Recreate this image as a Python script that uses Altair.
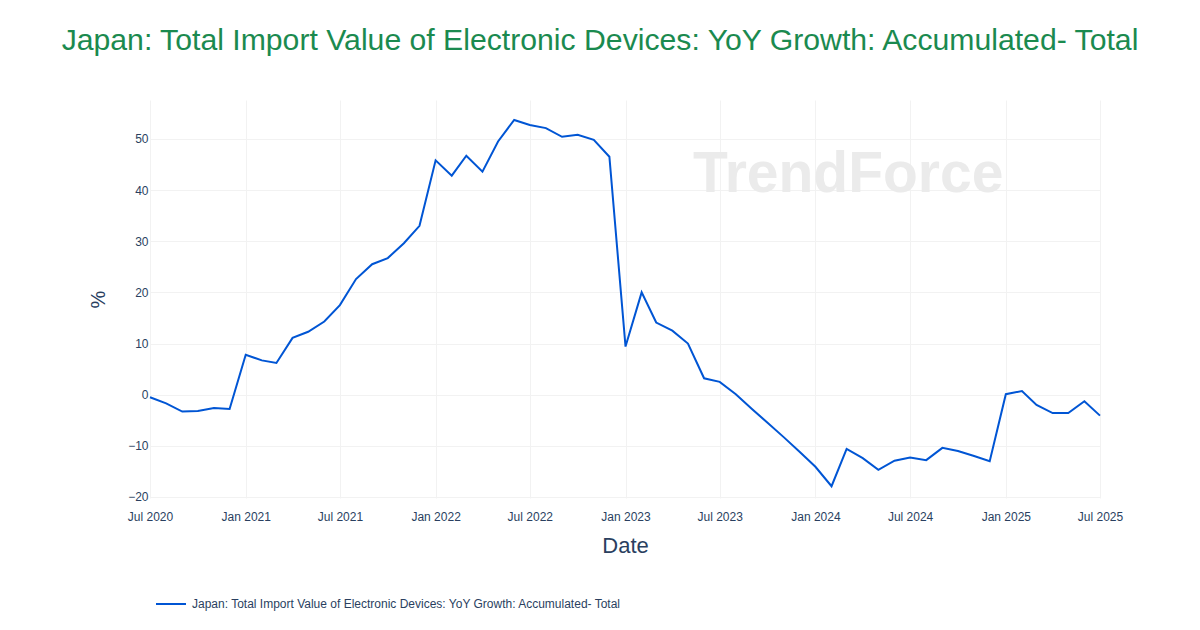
import altair as alt
import pandas as pd

title_text = "Japan: Total Import Value of Electronic Devices: YoY Growth: Accumulated- Total"
series_name = title_text

months = pd.date_range("2020-07-01", "2025-07-01", freq="MS").strftime("%Y-%m-%dT00:00:00").tolist()

values_2020 = [-0.5, -1.7, -3.3, -3.2, -2.6, -2.8]
values_2021 = [7.8, 6.7, 6.2, 11.1, 12.3, 14.3, 17.5, 22.6, 25.5, 26.7, 29.6, 33.0]
values_2022 = [45.8, 42.8, 46.7, 43.6, 49.5, 53.7, 52.7, 52.1, 50.4, 50.8, 49.8, 46.5]
values_2023 = [9.4, 20.0, 14.1, 12.5, 10.0, 3.2, 2.5, 0.1, -2.8, -5.5, -8.3, -11.1]
values_2024 = [-14.1, -17.9, -10.6, -12.4, -14.7, -12.9, -12.3, -12.8, -10.4, -11.0, -12.0, -13.0]
values_2025 = [0.1, 0.7, -2.0, -3.6, -3.6, -1.3, -4.1]

values = values_2020 + values_2021 + values_2022 + values_2023 + values_2024 + values_2025

tick_dates = [alt.DateTime(year=y, month=m, date=1)
              for y, m in [(2020, 7), (2021, 1), (2021, 7), (2022, 1), (2022, 7), (2023, 1),
                           (2023, 7), (2024, 1), (2024, 7), (2025, 1), (2025, 7)]]
y_ticks = [-20, -10, 0, 10, 20, 30, 40, 50]

df = pd.DataFrame({"Date": months, "value": values, "series": series_name})

FONT = "Liberation Sans"
TEXT = "#2a3f5f"
GRID = "#f2f2f2"

watermark = alt.Chart(pd.DataFrame({"t": ["TrendForce"]})).mark_text(
    font="Liberation Sans", fontWeight="bold", fontSize=57, color="#ebebeb",
    align="left", baseline="alphabetic"
).encode(text="t:N", x=alt.value(543), y=alt.value(92))

line = alt.Chart(df).mark_line(strokeWidth=2).encode(
    x=alt.X("Date:T",
            scale=alt.Scale(domain=[alt.DateTime(year=2020, month=7, date=1),
                                    alt.DateTime(year=2025, month=7, date=1)]),
            axis=alt.Axis(values=tick_dates, format="%b %Y", title="Date",
                          labelFlush=False, labelOverlap=False, ticks=False,
                          domain=False, grid=True, gridColor=GRID,
                          labelPadding=13, labelFontSize=12, labelColor=TEXT, labelFont=FONT,
                          titleFontSize=22, titleFontWeight="normal", titleColor=TEXT,
                          titleFont=FONT, titlePadding=13)),
    y=alt.Y("value:Q",
            scale=alt.Scale(domain=[-20.2, 57.6], nice=False, zero=False),
            axis=alt.Axis(values=y_ticks, format="d", title="%",
                          ticks=False, domain=False, grid=True, gridColor=GRID,
                          labelPadding=2, labelFontSize=12, labelColor=TEXT, labelFont=FONT,
                          titleFontSize=20, titleFontWeight="normal", titleColor=TEXT,
                          titleFont=FONT, titlePadding=19)),
    color=alt.Color("series:N",
                    scale=alt.Scale(range=["#0055d4"]),
                    legend=alt.Legend(title=None, orient="none", legendX=5, legendY=488,
                                      symbolType="stroke", symbolSize=900,
                                      symbolStrokeWidth=2, labelFontSize=12,
                                      labelColor=TEXT, labelFont=FONT, labelLimit=800,
                                      labelOffset=5, padding=0)),
)

chart = alt.layer(watermark, line).properties(
    width=950, height=398,
    padding={"left": 150, "top": 100, "right": 100, "bottom": 132},
    autosize=alt.AutoSizeParams(type="none"),
    title=alt.TitleParams(title_text, fontSize=30.2, font=FONT, fontWeight="normal",
                          color="#1b8a4f", anchor="middle", offset=44, dx=-25),
    background="white",
).configure_view(stroke=None)

chart.save("out.html", embed_options={"renderer": "svg", "actions": False})
